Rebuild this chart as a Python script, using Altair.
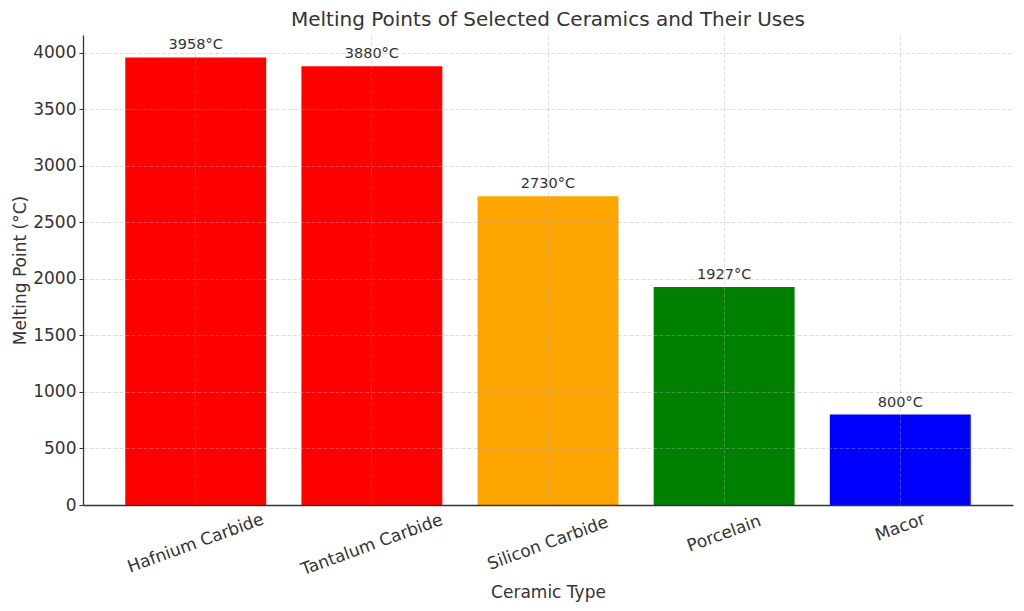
import altair as alt
import pandas as pd

ceramics = ["Hafnium Carbide", "Tantalum Carbide", "Silicon Carbide", "Porcelain", "Macor"]
melting_points = [3958, 3880, 2730, 1927, 800]
bar_colors = ["red", "red", "orange", "green", "blue"]
y_ticks = [0, 500, 1000, 1500, 2000, 2500, 3000, 3500, 4000]

df = pd.DataFrame({
    "Ceramic": ceramics,
    "Melting": melting_points,
    "Color": bar_colors,
})
df["Label"] = [f"{v}°C" for v in melting_points]

TEXT = "#333333"
FONT = "DejaVu Sans"

x_enc = alt.X(
    "Ceramic:N",
    sort=ceramics,
    scale=alt.Scale(paddingInner=0.2, paddingOuter=0.24),
    axis=alt.Axis(
        title="Ceramic Type",
        labelAngle=340,
        labelAlign="center",
        labelBaseline="middle",
        labelPadding={"expr": "14 + 1.6 * length(datum.label)"},
        ticks=False,
        grid=True,
        bandPosition=0.5,
        titleY=92,
        titleBaseline="alphabetic",
        zindex=1,
    ),
)
y_enc = alt.Y(
    "Melting:Q",
    scale=alt.Scale(domain=[0, 4155.9], nice=False, zero=True),
    axis=alt.Axis(
        title="Melting Point (°C)",
        values=y_ticks,
        format="d",
        tickSize=4,
        labelPadding=3,
        titleX=-58,
        titleBaseline="alphabetic",
        zindex=1,
    ),
)

bars = alt.Chart(df).mark_bar(opacity=1).encode(
    x=x_enc,
    y=y_enc,
    color=alt.Color("Color:N", scale=None),
)

labels = alt.Chart(df).mark_text(
    baseline="alphabetic", dy=-8, fontSize=14.5, color=TEXT, font=FONT
).encode(
    x=alt.X("Ceramic:N", sort=ceramics),
    y=alt.Y("Melting:Q"),
    text="Label:N",
)

chart = alt.layer(bars, labels).properties(
    width=930,
    height=470,
    title=alt.TitleParams(
        "Melting Points of Selected Ceramics and Their Uses",
        fontSize=20,
        font=FONT,
        fontWeight="normal",
        color=TEXT,
        anchor="middle",
        baseline="alphabetic",
        offset=9,
        dy=20,
    ),
    autosize=alt.AutoSizeParams(type="none"),
    padding={"left": 75, "top": 27, "right": 3, "bottom": 98},
).configure_view(
    stroke=None
).configure_axis(
    labelFont=FONT,
    titleFont=FONT,
    labelFontSize=17,
    titleFontSize=17,
    titleFontWeight="normal",
    labelColor=TEXT,
    titleColor=TEXT,
    domainColor="#333333",
    domainWidth=1.3,
    tickColor="#333333",
    gridColor="#b0b0b0",
    gridOpacity=0.5,
    gridDash=[4, 2],
    gridWidth=0.8,
)

chart.save("out.html", embed_options={"renderer": "svg", "actions": False})
